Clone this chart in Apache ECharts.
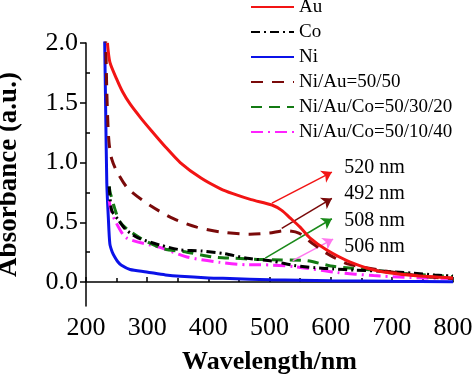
<!DOCTYPE html>
<html>
<head>
<meta charset="utf-8">
<script src="https://cdn.jsdelivr.net/npm/echarts@6/dist/echarts.min.js"></script>
<style>
  html, body { margin: 0; padding: 0; background: #fff; }
  #uv { width: 474px; height: 375px; }
</style>
</head>
<body>
<div id="uv"></div>
<script>
// UV-vis spectra, values
var names = ['Au', 'Co', 'Ni', 'Ni/Au=50/50', 'Ni/Au/Co=50/30/20', 'Ni/Au/Co=50/10/40']

var wlAu = [235, 239, 250, 260, 272, 290, 308, 330, 354, 388, 420, 440, 470, 504, 520, 533, 550, 566, 593, 631, 680, 735, 800]
var absAu = [2.0, 1.84, 1.7, 1.59, 1.49, 1.37, 1.26, 1.13, 1.0, 0.87, 0.78, 0.74, 0.69, 0.645, 0.6, 0.54, 0.46, 0.37, 0.27, 0.17, 0.09, 0.055, 0.035]

var wlCo = [238, 242, 253, 265, 285, 321, 354, 390, 424, 463, 505, 540, 575, 605, 640, 690, 735, 770, 800]
var absCo = [0.8, 0.6, 0.52, 0.44, 0.37, 0.31, 0.27, 0.26, 0.24, 0.2, 0.175, 0.14, 0.12, 0.11, 0.1, 0.09, 0.075, 0.06, 0.05]

var wlNi = [230, 232, 234, 236.5, 239, 243, 247, 252, 258, 272, 299, 330, 354, 400, 435, 500, 600, 700, 800]
var absNi = [2.2, 1.5, 0.83, 0.54, 0.32, 0.25, 0.21, 0.17, 0.14, 0.105, 0.085, 0.06, 0.048, 0.035, 0.03, 0.02, 0.012, 0.006, 0.003]

var wlNiAu = [232, 234, 236, 238, 242, 250, 269, 305, 343, 381, 419, 468, 500, 525, 548, 571, 594, 626, 680, 720, 767, 800]
var absNiAu = [2.1, 1.6, 1.3, 1.15, 1.03, 0.93, 0.78, 0.64, 0.53, 0.46, 0.42, 0.4, 0.41, 0.43, 0.41, 0.32, 0.24, 0.155, 0.1, 0.07, 0.04, 0.03]

var wlNac1 = [238, 240, 256, 288, 326, 365, 408, 440, 480, 520, 560, 600, 636, 670, 713, 741, 800]
var absNac1 = [0.8, 0.74, 0.5, 0.37, 0.28, 0.25, 0.21, 0.2, 0.19, 0.185, 0.18, 0.135, 0.115, 0.1, 0.075, 0.065, 0.045]

var wlNac2 = [238, 240, 247, 266, 321, 365, 419, 463, 484, 540, 610, 670, 720, 800]
var absNac2 = [0.68, 0.62, 0.52, 0.37, 0.29, 0.21, 0.165, 0.145, 0.145, 0.13, 0.08, 0.055, 0.04, 0.03]

// peak annotations: arrow from curve to label
var peakLabels = ['520 nm', '492 nm', '508 nm', '506 nm']
var arrowFrom = [[504, 0.66], [520, 0.45], [493, 0.2], [538, 0.18]]
var arrowTo = [[602, 0.92], [602, 0.7], [602, 0.53], [604, 0.36]]
var labelAt = [[614, 0.96], [614, 0.74], [614, 0.515], [614, 0.295]]

var xTicks = [200, 300, 400, 500, 600, 700, 800]
var yTicks = [0.0, 0.5, 1.0, 1.5, 2.0]
var yMinor = [0.25, 0.75, 1.25, 1.75]

var serif = '"Liberation Serif", "Times New Roman", serif'

function pairs (xs, ys) {
  var out = []
  for (var i = 0; i < xs.length; i++) {
    out.push([xs[i], ys[i]])
  }
  return out
}

function peak (k, color) {
  return {
    markLine: {
      silent: true,
      animation: false,
      symbol: ['none', 'arrow'],
      symbolSize: 10,
      label: { show: false },
      lineStyle: { color: color, width: 1.5, type: 'solid' },
      emphasis: { disabled: true },
      data: [[{ coord: arrowFrom[k] }, { coord: arrowTo[k] }]]
    },
    markPoint: {
      silent: true,
      animation: false,
      symbol: 'circle',
      symbolSize: 0,
      label: {
        show: true,
        position: 'right',
        distance: 5,
        formatter: peakLabels[k],
        color: '#000',
        fontFamily: serif,
        fontSize: 20
      },
      data: [{ coord: labelAt[k] }]
    }
  }
}

function line (name, data, color, type, z, extra) {
  var s = {
    name: name,
    type: 'line',
    data: data,
    symbol: 'none',
    smooth: 0.25,
    z: z,
    lineStyle: { color: color, width: 3, type: type },
    itemStyle: { color: color }
  }
  if (extra) {
    s.markLine = extra.markLine
    s.markPoint = extra.markPoint
  }
  return s
}

var chart = echarts.init(document.getElementById('uv'))

var option = {
  animation: false,
  backgroundColor: '#fff',
  grid: { left: 86, right: 21, top: 43, bottom: 69, outerBoundsMode: 'none' },
  legend: {
    orient: 'vertical',
    left: 250,
    top: -3,
    padding: 0,
    itemWidth: 43,
    itemHeight: 14,
    itemGap: 5,
    selectedMode: false,
    itemStyle: { opacity: 0 },
    textStyle: { fontFamily: serif, fontSize: 19, color: '#000', lineHeight: 20 },
    data: names
  },
  xAxis: {
    type: 'value',
    min: 200,
    max: 800,
    interval: 100,
    name: 'Wavelength/nm',
    nameLocation: 'middle',
    nameGap: 43,
    nameTextStyle: { fontFamily: serif, fontSize: 26, fontWeight: 'bold', color: '#000' },
    axisLine: { lineStyle: { color: '#000', width: 1.5 } },
    axisTick: { inside: true, length: 5, lineStyle: { color: '#000', width: 1.5 } },
    minorTick: { show: true, splitNumber: 2, length: 4, lineStyle: { color: '#000', width: 1.5 } },
    axisLabel: {
      fontFamily: serif, fontSize: 26, color: '#000', margin: 9,
      customValues: xTicks
    },
    splitLine: { show: false }
  },
  yAxis: [
    {
      type: 'value',
      min: -0.2,
      max: 2.0,
      name: 'Absorbance (a.u.)',
      nameLocation: 'middle',
      nameGap: 63,
      nameTextStyle: { fontFamily: serif, fontSize: 27, fontWeight: 'bold', color: '#000' },
      axisLine: { show: true, lineStyle: { color: '#000', width: 1.5 } },
      axisTick: { show: true, inside: false, length: 6, customValues: yTicks, lineStyle: { color: '#000', width: 1.5 } },
      axisLabel: {
        fontFamily: serif, fontSize: 26, color: '#000', margin: 8,
        customValues: yTicks,
        formatter: function (v) { return v.toFixed(1) }
      },
      splitLine: { show: false }
    },
    {
      // inner minor ticks on the left axis
      type: 'value',
      position: 'left',
      min: -0.2,
      max: 2.0,
      axisLine: { show: false },
      axisTick: { show: true, inside: true, length: 4, customValues: yMinor, lineStyle: { color: '#000', width: 1.5 } },
      axisLabel: { show: false },
      splitLine: { show: false }
    }
  ],
  series: [
    line(names[2], pairs(wlNi, absNi), '#0b12e8', 'solid', 2),
    line(names[5], pairs(wlNac2, absNac2), '#ff22ff', [12, 5, 2, 5], 3, peak(3, '#ff77ee')),
    line(names[4], pairs(wlNac1, absNac1), '#137a13', [11, 7], 4, peak(2, '#1a8a1a')),
    line(names[1], pairs(wlCo, absCo), '#000000', [9, 4, 2, 4], 5),
    line(names[3], pairs(wlNiAu, absNiAu), '#7a0a0a', [12, 9], 6, peak(1, '#7a0a0a')),
    line(names[0], pairs(wlAu, absAu), '#f21414', 'solid', 7, peak(0, '#f21414'))
  ]
}

chart.setOption(option)
</script>
</body>
</html>
